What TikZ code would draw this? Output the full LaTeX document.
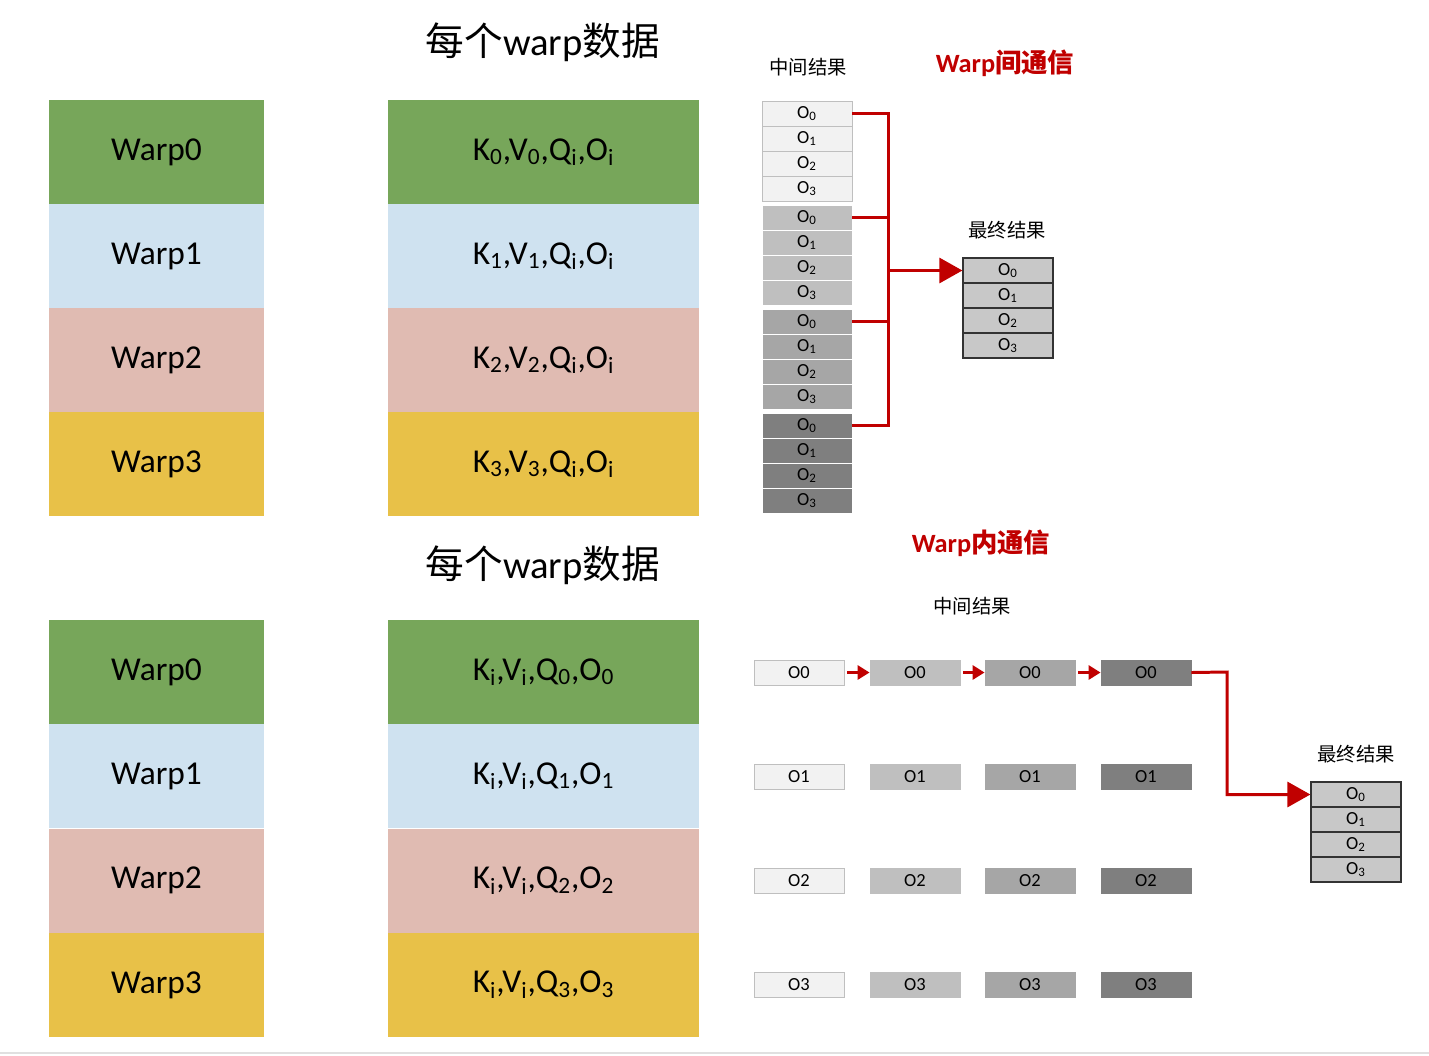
\documentclass[tikz,border=0pt]{standalone}
\usepackage{fontspec}
\setmainfont{Carlito}
\newfontfamily\cjk{Noto Sans CJK SC}
\usetikzlibrary{arrows.meta}
\definecolor{warpGreen}{HTML}{77A65A}
\definecolor{warpBlue}{HTML}{CFE2F0}
\definecolor{warpRose}{HTML}{E0BBB2}
\definecolor{warpGold}{HTML}{E8C148}
\definecolor{shadeA}{HTML}{F2F2F2}
\definecolor{shadeB}{HTML}{BFBFBF}
\definecolor{shadeC}{HTML}{A6A6A6}
\definecolor{shadeD}{HTML}{7F7F7F}
\definecolor{finalGray}{HTML}{C8C8C8}
\definecolor{commRed}{HTML}{C00000}
\tikzset{
    wbox/.style={minimum width=4.3cm, minimum height=2.08cm, inner sep=0pt, font=\fontsize{19}{23}\selectfont},
    dbox/.style={wbox, minimum width=6.22cm},
    ocell/.style={line width=0.5pt, minimum width=1.8cm, minimum height=0.5cm, inner sep=0pt, font=\fontsize{10.5}{12}\selectfont},
    fcell/.style={ocell, draw=black!80, line width=0.7pt, fill=finalGray},
    ttl/.style={font=\fontsize{22}{26}\selectfont},
    lbl/.style={font=\cjk\fontsize{11}{13}\selectfont},
    redlbl/.style={text=commRed, font=\bfseries\fontsize{15}{18}\selectfont},
    redline/.style={draw=commRed, line width=1.7pt},
    bigarrow/.style={redline, -{Triangle[length=0.46cm, width=0.5cm]}},
    smallarrow/.style={redline, -{Triangle[length=0.24cm, width=0.28cm]}}
}

\begin{document}
\begin{tikzpicture}[x=0.02cm, y=-0.02cm]
    \useasboundingbox (0,0) rectangle (1429,1055);
    \draw[black!12, line width=0.8pt] (0,1053) -- (1429,1053);

    % upper half: K/V split over warps
    \node[ttl] (titletop) at (543,42) {{\cjk 每个}warp{\cjk 数据}};
    \foreach \i/\c in {0/warpGreen,1/warpBlue,2/warpRose,3/warpGold}{
        \node[wbox, fill=\c] (warptop\i) at (156.5,{152+104*\i}) {Warp\i};
        \node[dbox, fill=\c] (datatop\i) at (543.5,{152+104*\i})
            {K\textsubscript{\i},V\textsubscript{\i},Q\textsubscript{i},O\textsubscript{i}};
    }

    \node[lbl] (midlbltop) at (808,67) {中间结果};
    \node[redlbl] (intercomm) at (1005,63) {Warp{\cjk 间通信}};
    \foreach \g/\c/\e in {0/shadeA/black!25,1/shadeB/white,2/shadeC/white,3/shadeD/white}{
        \foreach \j in {0,1,2,3}{
            \node[ocell, fill=\c, draw=\e] (mid\g\j) at (807,{113.5+104*\g+25*\j}) {O\textsubscript{\j}};
        }
    }

    \node[lbl] (finlbltop) at (1007,230) {最终结果};
    \foreach \j in {0,1,2,3}{
        \node[fcell] (fin\j) at (1008,{270.5+25*\j}) {O\textsubscript{\j}};
    }

    \coordinate (bus) at (888,113);
    \foreach \g in {0,1,2,3}{
        \draw[redline] (mid\g0.east) -- (mid\g0.east -| bus);
    }
    \draw[redline, line cap=rect] (mid00.east -| bus) -- (mid30.east -| bus);
    \draw[bigarrow] (fin0.west -| bus) -- (fin0.west);

    % lower half: Q/O split over warps
    \node[ttl] (titlebot) at (543,565) {{\cjk 每个}warp{\cjk 数据}};
    \foreach \i/\c in {0/warpGreen,1/warpBlue,2/warpRose,3/warpGold}{
        \node[wbox, fill=\c] (warpbot\i) at (156.5,{672+104.3*\i}) {Warp\i};
        \node[dbox, fill=\c] (databot\i) at (543.5,{672+104.3*\i})
            {K\textsubscript{i},V\textsubscript{i},Q\textsubscript{\i},O\textsubscript{\i}};
    }

    \node[redlbl] (intracomm) at (981,543) {Warp{\cjk 内通信}};
    \node[lbl] (midlblbot) at (972,606) {中间结果};
    \foreach \r in {0,1,2,3}{
        \foreach \c/\x/\s/\e in {0/799/shadeA/black!25,1/915/shadeB/shadeB,2/1030/shadeC/shadeC,3/1146/shadeD/shadeD}{
            \node[ocell, fill=\s, draw=\e] (lane\r\c) at (\x,{672.5+104*\r}) {O\r};
        }
    }
    \foreach \c/\n in {0/1,1/2,2/3}{
        \draw[smallarrow] ([xshift=0.06cm]lane0\c.east) -- (lane0\n.west);
    }

    \node[lbl] (finlblbot) at (1356,754) {最终结果};
    \foreach \j in {0,1,2,3}{
        \node[fcell] (fbot\j) at (1356,{794.5+25*\j}) {O\textsubscript{\j}};
    }

    \coordinate (turn) at (1227,672);
    \draw[bigarrow] (lane03.east) -- (turn) |- (fbot0.west);
\end{tikzpicture}
\end{document}
